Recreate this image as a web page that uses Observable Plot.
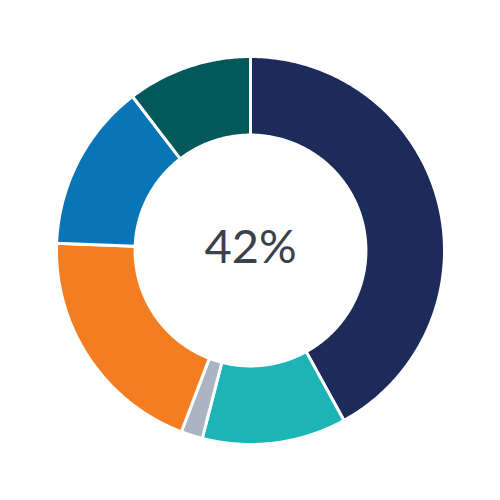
<!DOCTYPE html>
<html>
<head>
<meta charset="utf-8">
<script src="https://cdn.jsdelivr.net/npm/d3@7"></script>
<script src="https://cdn.jsdelivr.net/npm/@observablehq/plot@0.6"></script>
<style>
  html, body { margin: 0; padding: 0; background: #ffffff; }
  #chart svg { display: block; }
</style>
</head>
<body>
<div id="chart"></div>
<script>
// Data
const categories = ["Segment A", "Segment B", "Segment C", "Segment D", "Segment E", "Segment F"];
const values = [42, 12, 1.8, 19.8, 14, 10.4];
const colors = ["#1d2b5a", "#1cb4b7", "#aab4c2", "#f37e21", "#0876b6", "#03595a"];
const centerLabel = "42%";

// Geometry (in data units)
const outerR = 1;
const innerR = 0.595;

const pie = d3.pie().sort(null).value(d => d.value).startAngle(0).endAngle(2 * Math.PI);
const arcs = pie(categories.map((c, i) => ({category: c, value: values[i]})));

const pts = [];
for (const a of arcs) {
  const steps = Math.max(4, Math.ceil((a.endAngle - a.startAngle) / 0.01));
  for (let s = 0; s <= steps; s++) {
    const t = a.startAngle + (a.endAngle - a.startAngle) * s / steps;
    pts.push({category: a.data.category, x: outerR * Math.sin(t), y: outerR * Math.cos(t)});
  }
  for (let s = steps; s >= 0; s--) {
    const t = a.startAngle + (a.endAngle - a.startAngle) * s / steps;
    pts.push({category: a.data.category, x: innerR * Math.sin(t), y: innerR * Math.cos(t)});
  }
}

const d = 250 / 194;
const chart = Plot.plot({
  width: 500,
  height: 500,
  margin: 0,
  x: {domain: [-d, d], axis: null},
  y: {domain: [-d, d], axis: null},
  color: {domain: categories, range: colors},
  style: {background: "#ffffff"},
  marks: [
    Plot.line(pts, {
      x: "x", y: "y", z: "category", fill: "category",
      stroke: "#ffffff", strokeWidth: 3, curve: "linear-closed"
    }),
    Plot.text([centerLabel], {
      x: () => 0, y: () => 0, text: t => t,
      fontSize: 47, fontWeight: 400, fontFamily: "Lato, 'Open Sans', sans-serif",
      fill: "#3b414b", dy: -3, lineAnchor: "middle", textAnchor: "middle"
    })
  ]
});
document.getElementById("chart").append(chart);
</script>
</body>
</html>
